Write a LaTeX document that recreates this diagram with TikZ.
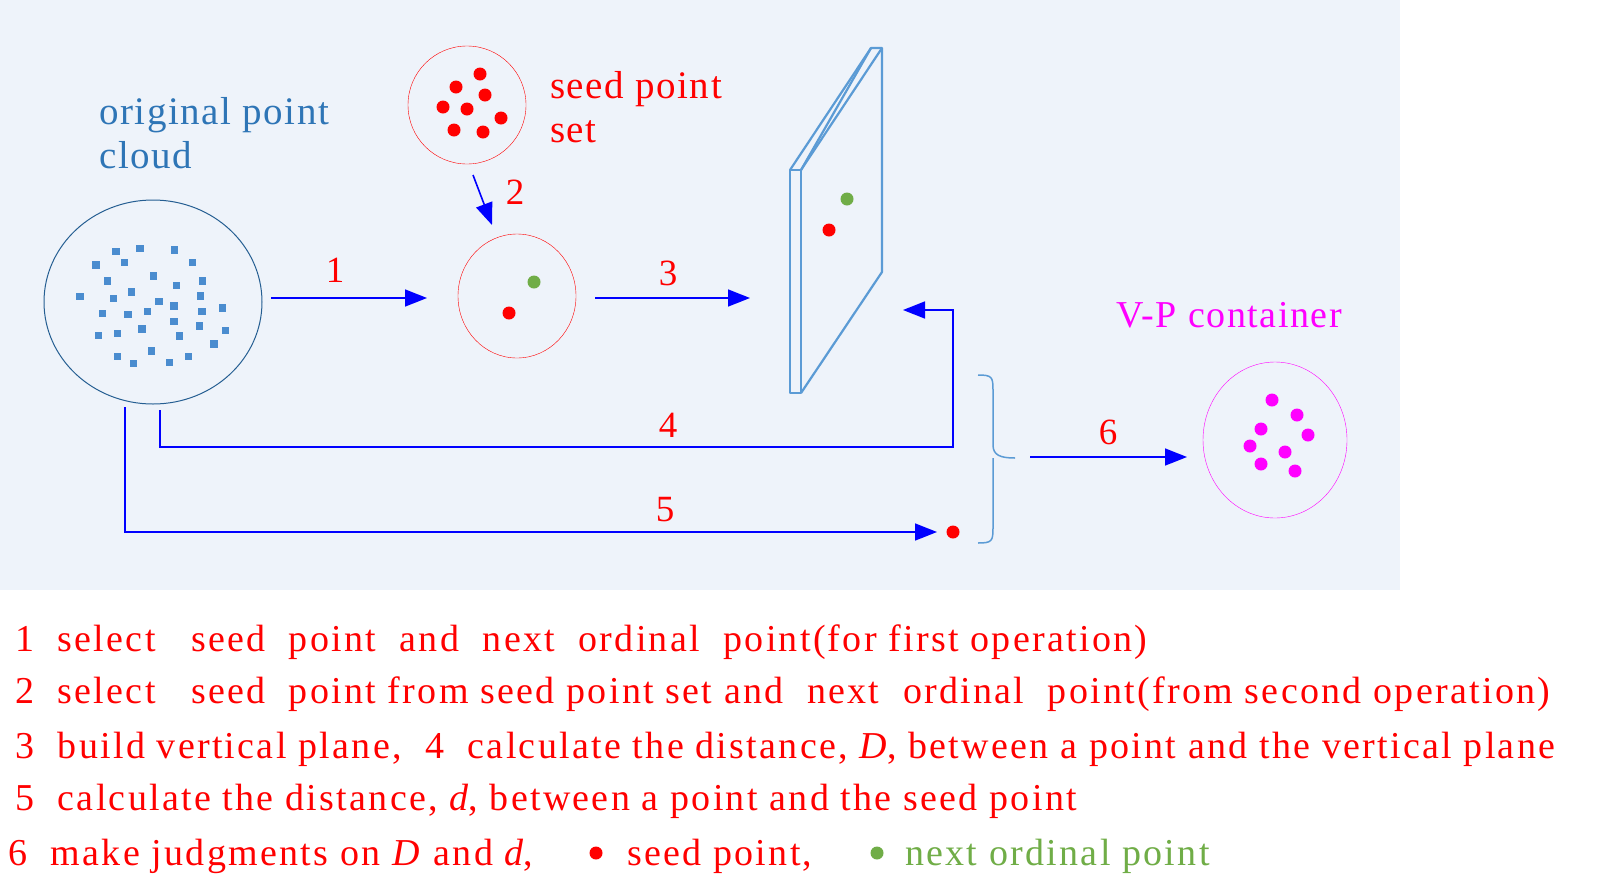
\documentclass[tikz,border=0pt]{standalone}
\usepackage{fontspec}
\setmainfont{Liberation Serif}[LetterSpace=4]
\usetikzlibrary{arrows.meta,shapes.geometric}
\definecolor{bg}{HTML}{EEF3FA}
\definecolor{cblue}{HTML}{2E75B6}
\definecolor{plane}{HTML}{5B9BD5}
\definecolor{ared}{HTML}{FF0000}
\definecolor{agreen}{HTML}{70AD47}
\definecolor{amag}{HTML}{FF00FF}
\definecolor{sq}{HTML}{4A8CCF}
\begin{document}
\begin{tikzpicture}[x=1pt,y=-1pt,
  conn/.style={blue,line width=1.6pt,-{Triangle[length=22pt,width=17pt]}},
  lbl/.style={font=\fontsize{37}{40}\selectfont,text=ared,inner sep=0},
  txt/.style={font=\fontsize{38}{40}\selectfont\addfontfeature{LetterSpace=6},text=ared,inner sep=0,anchor=base west},
  rdot/.style={circle,fill=ared,minimum size=13pt,inner sep=0},
  gdot/.style={circle,fill=agreen,minimum size=13pt,inner sep=0},
  mdot/.style={circle,fill=amag,minimum size=13pt,inner sep=0}]
\useasboundingbox (0,0) rectangle (1600,892);
\fill[white] (0,0) rectangle (1600,892);
\fill[bg] (0,0) rectangle (1400,590);
% original cloud
\node[draw=cblue!80!black,line width=1pt,ellipse,minimum width=218pt,minimum height=204pt,inner sep=0] (oc) at (153,302) {};
\begin{scope}[shift={(40,190)},x=0.3333pt,y=-0.3333pt]
\foreach \a/\b in {228/185,300/175,403/180,168/225,253/218,458/218,340/258,202/273,410/287,488/273,120/320,220/325,275/306,482/318,357/335,402/348,188/370,264/374,322/365,486/365,548/354,402/395,478/408,306/417,175/437,233/430,418/438,556/422,522/462,335/483,233/500,281/521,389/518,445/500}
  \fill[sq] (\a-11,\b-11) rectangle (\a+11,\b+11);
\end{scope}
\node[font=\fontsize{39}{44}\selectfont,text=cblue,align=left,anchor=north west,inner sep=0] (oct) at (99,97) {original point\\cloud};
% seed point set
\node[draw=ared,circle,minimum size=118pt,inner sep=0] (ss) at (467,105) {};
\foreach \p in {(480,74),(456,87),(485,95),(443,107),(467,109),(501,118),(454,130),(483,132)}
  \node[rdot] at \p {};
\node[font=\fontsize{39}{44}\selectfont,text=ared,align=left,anchor=north west,inner sep=0] (sst) at (550,71) {seed point\\set};
% middle circle
\node[draw=ared,ellipse,minimum width=118pt,minimum height=124pt,inner sep=0] (mc) at (517,296) {};
\node[rdot] (mr) at (509,313) {};
\node[gdot] (mg) at (534,282) {};
% plane
\begin{scope}[draw=plane,line width=2.2pt,line join=round]
\draw (790,170) rectangle (801,393);
\draw (801,170) -- (871,48) -- (882,48) -- (882,272) -- (801,393);
\draw (790,170) -- (871,48);
\draw (801,170) -- (882,48);
\end{scope}
\node[rdot] (pr) at (829,230) {};
\node[gdot] (pg) at (847,199) {};
% V-P container
\node[draw=amag,ellipse,minimum width=144pt,minimum height=156pt,inner sep=0] (vp) at (1275,440) {};
\foreach \p in {(1272,400),(1297,415),(1261,429),(1308,435),(1250,446),(1285,452),(1261,464),(1295,471)}
  \node[mdot] at \p {};
\node[font=\fontsize{38}{40}\selectfont,text=amag,inner sep=0] (vpt) at (1229,315) {V-P container};
% coordinates
\coordinate (a1s) at (271,298); \coordinate (a1e) at (427,298);
\coordinate (a3s) at (595,298); \coordinate (a3e) at (750,298);
\coordinate (a2s) at (473,175); \coordinate (a2e) at (492,225);
\coordinate (a4s) at (160,410); \coordinate (a4e) at (903,310);
\coordinate (a5s) at (125,407); \coordinate (a5e) at (937,532);
\coordinate (a6s) at (1030,457); \coordinate (a6e) at (1187,457);
\node[rdot] (d5) at (953,532) {};
\draw[conn] (a1s) -- (a1e);
\draw[conn] (a3s) -- (a3e);
\draw[conn] (a2s) -- (a2e);
\draw[conn] (a4s) |- (953,447) |- (a4e);
\draw[conn] (a5s) |- (a5e);
\draw[conn] (a6s) -- (a6e);
\draw[plane,line width=1.5pt] (978,375) .. controls (992,375) and (993,377) .. (993,390) -- (993,445) .. controls (993,455) and (1000,458) .. (1015,458)
  (993,458) .. controls (993,460) and (993,462) .. (993,470) -- (993,528) .. controls (993,541) and (992,543) .. (978,543);
\node[lbl] (l1) at (335,270) {1};
\node[lbl] (l2) at (515,192) {2};
\node[lbl] (l3) at (668,273) {3};
\node[lbl] (l4) at (668,425) {4};
\node[lbl] (l5) at (665,510) {5};
\node[lbl] (l6) at (1108,432) {6};
% legend text
\node[txt] (t1) at (15,651) {1\ \ select\ \ \ seed\ \ point\ \ and\ \ next\ \ ordinal\ \ point(for first operation)};
\node[txt] (t2) at (15,703) {2\ \ select\ \ \ seed\ \ point from seed point set and\ \ next\ \ ordinal\ \ point(from second operation)};
\node[txt] (t3) at (15,758) {3\ \ build vertical plane,\ \ 4\ \ calculate the distance, \textit{D}, between a point and the vertical plane};
\node[txt] (t4) at (15,810) {5\ \ calculate the distance, \textit{d}, between a point and the seed point};
\node[txt] (t5) at (8,865) {6\ \ make judgments on \textit{D} and \textit{d},};
\node[rdot] (lr) at (596,853) {};
\node[txt] (t6) at (627,865) {seed point,};
\node[gdot] (lg) at (877,853) {};
\node[txt,text=agreen] (t7) at (905,865) {next ordinal point};
\end{tikzpicture}
\end{document}
